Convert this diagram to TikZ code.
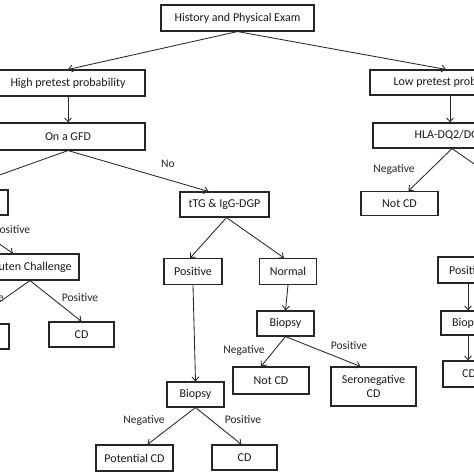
\documentclass[tikz,border=0pt]{standalone}
\usepackage{fontspec}
\setmainfont{Carlito}
\usetikzlibrary{arrows.meta,calc}
\begin{document}
\begin{tikzpicture}[x=1pt,y=-1pt,
  box/.style={draw=black!85, line width=1.1pt, inner sep=0pt, align=center,
    font=\fontsize{12}{14}\selectfont, text=black!90},
  arr/.style={draw=black!85, line width=0.85pt, -{Straight Barb[length=4pt,width=7pt]}},
  ln/.style={draw=black!85, line width=0.85pt},
  lbl/.style={inner sep=0pt, font=\fontsize{11.6}{13}\selectfont, text=black!85}]
\useasboundingbox (0,0) rectangle (474,474);
\clip (0,0) rectangle (474,474);
% boxes
\node[box, minimum width=153, minimum height=26] (top) at (237.5,18) {History and Physical Exam};
\node[box, minimum width=154, minimum height=26] (high) at (68,83) {High pretest probability};
\node[box, minimum width=154, minimum height=27] (gfd) at (68,136.5) {On a GFD};
\node[box, minimum width=160, minimum height=25] (low) at (450,82.5) {Low pretest probability};
\node[box, minimum width=154, minimum height=25] (hla) at (450,135.5) {HLA-DQ2/DQ8};
\node[box, minimum width=77, minimum height=24] (notcdR) at (399.5,203.5) {Not CD};
\node[box, minimum width=98, minimum height=25] (leftA) at (-41,202.5) {};
\node[box, minimum width=98, minimum height=26] (gluten) at (30,267) {Gluten Challenge};
\node[box, minimum width=80, minimum height=25] (leftB) at (-31,336.5) {};
\node[box, minimum width=65, minimum height=25] (cdL) at (81.5,334.5) {CD};
\node[box, minimum width=89, minimum height=25] (ttg) at (224.5,204.5) {tTG \& IgG-DGP};
\node[box, minimum width=58, minimum height=26] (posM) at (193,271.7) {Positive};
\node[box, minimum width=57, minimum height=26] (normal) at (288,271.5) {Normal};
\node[box, minimum width=57, minimum height=25] (biopsyL) at (195.5,394.5) {Biopsy};
\node[box, minimum width=77, minimum height=26] (potential) at (134.5,458) {Potential CD};
\node[box, minimum width=65, minimum height=25] (cdM) at (244.5,457.5) {CD};
\node[box, minimum width=57, minimum height=25] (biopsyM) at (285.5,323.5) {Biopsy};
\node[box, minimum width=76, minimum height=27] (notcdM) at (271,380.5) {Not CD};
\node[box, minimum width=85, minimum height=39] (sero) at (373.5,386.5) {Seronegative\\CD};
\node[box, minimum width=60, minimum height=26] (posR) at (468,270) {Positive};
\node[box, minimum width=54, minimum height=24] (biopsyR) at (468,323) {Biopsy};
\node[box, minimum width=52, minimum height=26] (cdR) at (469,374) {CD};
\coordinate (offR) at (500,182);
% connectors
\draw[arr] (top.south) -- (high.north);
\draw[arr] (top.south) -- ([xshift=-4]low.north);
\draw[arr] (high.south) -- (gfd.north);
\draw[arr] (low.south) -- (hla.north);
\draw[arr] (gfd.south) -- (leftA.north);
\draw[arr] (gfd.south) -- ([xshift=-16]ttg.north);
\draw[arr] (leftA.south) -- ([xshift=-17]gluten.north);
\draw[arr] (gluten.south) -- (leftB.north);
\draw[arr] (gluten.south) -- (cdL.north);
\draw[arr] ([xshift=2]ttg.south) -- ([xshift=-3]posM.north);
\draw[arr] ([xshift=2]ttg.south) -- ([xshift=-4]normal.north);
\draw[arr] (posM.south) -- (biopsyL.north);
\draw[arr] (biopsyL.south) -- ([xshift=13]potential.north);
\draw[arr] (biopsyL.south) -- ([xshift=-3]cdM.north);
\draw[arr] (normal.south) -- (biopsyM.north);
\draw[arr] (biopsyM.south) -- ([xshift=-10]notcdM.north);
\draw[arr] (biopsyM.south) -- ([xshift=-13]sero.north);
\draw[arr] ([xshift=2]hla.south) -- ([xshift=9]notcdR.north);
\draw[ln] ([xshift=2]hla.south) -- (offR);
\draw[arr] (posR.south) -- (biopsyR.north);
\draw[arr] (biopsyR.south) -- ([xshift=-1]cdR.north);
% labels
\node[lbl] (lno) at (168,164) {No};
\node[lbl] (lposA) at (12,230) {Positive};
\node[lbl, anchor=east] (lnegB) at (4,298) {Negative};
\node[lbl] (lposB) at (80,298) {Positive};
\node[lbl] (lnegC) at (144,420) {Negative};
\node[lbl] (lposC) at (243,420) {Positive};
\node[lbl] (lnegD) at (244,350) {Negative};
\node[lbl] (lposD) at (349,346) {Positive};
\node[lbl] (lnegE) at (394,169) {Negative};
\end{tikzpicture}
\end{document}
